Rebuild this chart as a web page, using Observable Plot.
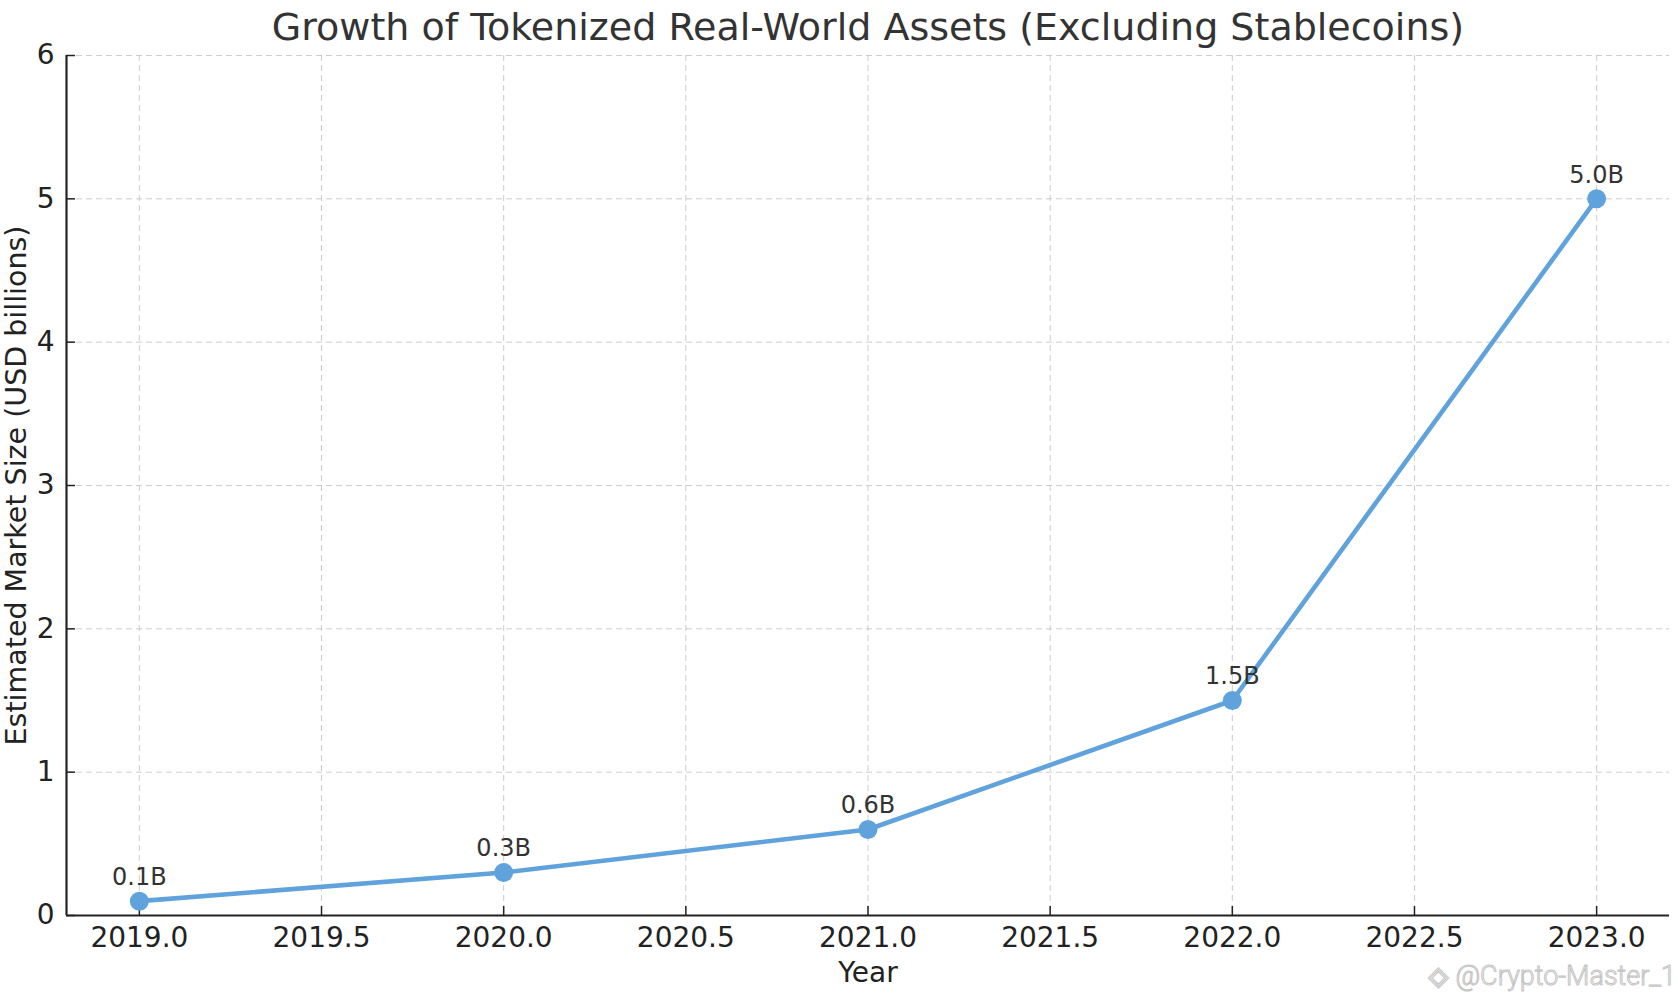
<!DOCTYPE html>
<html>
<head>
<meta charset="utf-8">
<script src="https://cdn.jsdelivr.net/npm/d3@7"></script>
<script src="https://cdn.jsdelivr.net/npm/@observablehq/plot@0.6"></script>
<style>
  html, body { margin: 0; padding: 0; background: #fff; }
  body { width: 1678px; height: 1000px; position: relative; overflow: hidden; font-family: "DejaVu Sans", sans-serif; }
  #title { position: absolute; z-index: 2; left: 66px; width: 1604px; top: 3px; text-align: center; font-size: 38px; color: #333; line-height: 48px; }
  #chart { position: absolute; z-index: 1; left: 0; top: 35px; }
  #chart svg { background: transparent !important; }
  #wm { position: absolute; z-index: 3; right: 2px; top: 960px; font-size: 27px; color: #fff; -webkit-text-stroke: 1px #c4c4c4; font-family: Roboto, "DejaVu Sans", sans-serif; font-weight: 300; }
</style>
</head>
<body>
<div id="title">Growth of Tokenized Real-World Assets (Excluding Stablecoins)</div>
<div id="chart"></div>
<div id="wm">◈ @Crypto-Master_1</div>
<script>
const years = [2019, 2020, 2021, 2022, 2023];
const values = [0.1, 0.3, 0.6, 1.5, 5.0];
const valueLabels = ["0.1B", "0.3B", "0.6B", "1.5B", "5.0B"];
const xTicks = [2019.0, 2019.5, 2020.0, 2020.5, 2021.0, 2021.5, 2022.0, 2022.5, 2023.0];
const yTicks = [0, 1, 2, 3, 4, 5, 6];
const xLabel = "Year";
const yLabel = "Estimated Market Size (USD billions)";

const data = years.map((y, i) => ({year: y, value: values[i], label: valueLabels[i]}));
const lineColor = "#5fa2dc";

const chart = Plot.plot({
  width: 1678,
  height: 962,
  marginTop: 20,
  marginLeft: 66,
  marginRight: 9,
  marginBottom: 82,
  style: {fontFamily: "DejaVu Sans, sans-serif", background: "transparent", color: "#222"},
  x: {domain: [2018.8, 2023.2]},
  y: {domain: [0, 6]},
  marks: [
    Plot.gridX(xTicks, {stroke: "#b8b8b8", strokeOpacity: 0.7, strokeWidth: 1, strokeDasharray: "6,4"}),
    Plot.gridY(yTicks, {stroke: "#b8b8b8", strokeOpacity: 0.7, strokeWidth: 1, strokeDasharray: "6,4"}),
    Plot.axisX(xTicks, {tickSize: -9, tickPadding: 21, tickFormat: d => d.toFixed(1), fontSize: 28, stroke: "#222", strokeWidth: 1.5, fill: "#222", label: null}),
    Plot.axisY(yTicks, {tickSize: -9, tickPadding: 21, tickFormat: d => String(d), fontSize: 28, stroke: "#222", strokeWidth: 1.5, fill: "#222", label: null}),
    Plot.ruleY([0], {stroke: "#222", strokeWidth: 2.2}),
    Plot.ruleX([2018.8], {stroke: "#222", strokeWidth: 2.2}),
    Plot.line(data, {x: "year", y: "value", stroke: lineColor, strokeWidth: 4.6}),
    Plot.dot(data, {x: "year", y: "value", r: 9.5, fill: lineColor, stroke: null}),
    Plot.text(data, {x: "year", y: "value", text: "label", dy: -24, fontSize: 24, fill: "#333"}),
    Plot.text([xLabel], {frameAnchor: "bottom", lineAnchor: "middle", dy: 58, fontSize: 28, fill: "#222", textAnchor: "middle"}),
    Plot.text([yLabel], {frameAnchor: "left", lineAnchor: "middle", dx: -50, rotate: -90, fontSize: 28.5, fill: "#222", textAnchor: "middle"})
  ]
});
document.getElementById("chart").appendChild(chart);
</script>
</body>
</html>
